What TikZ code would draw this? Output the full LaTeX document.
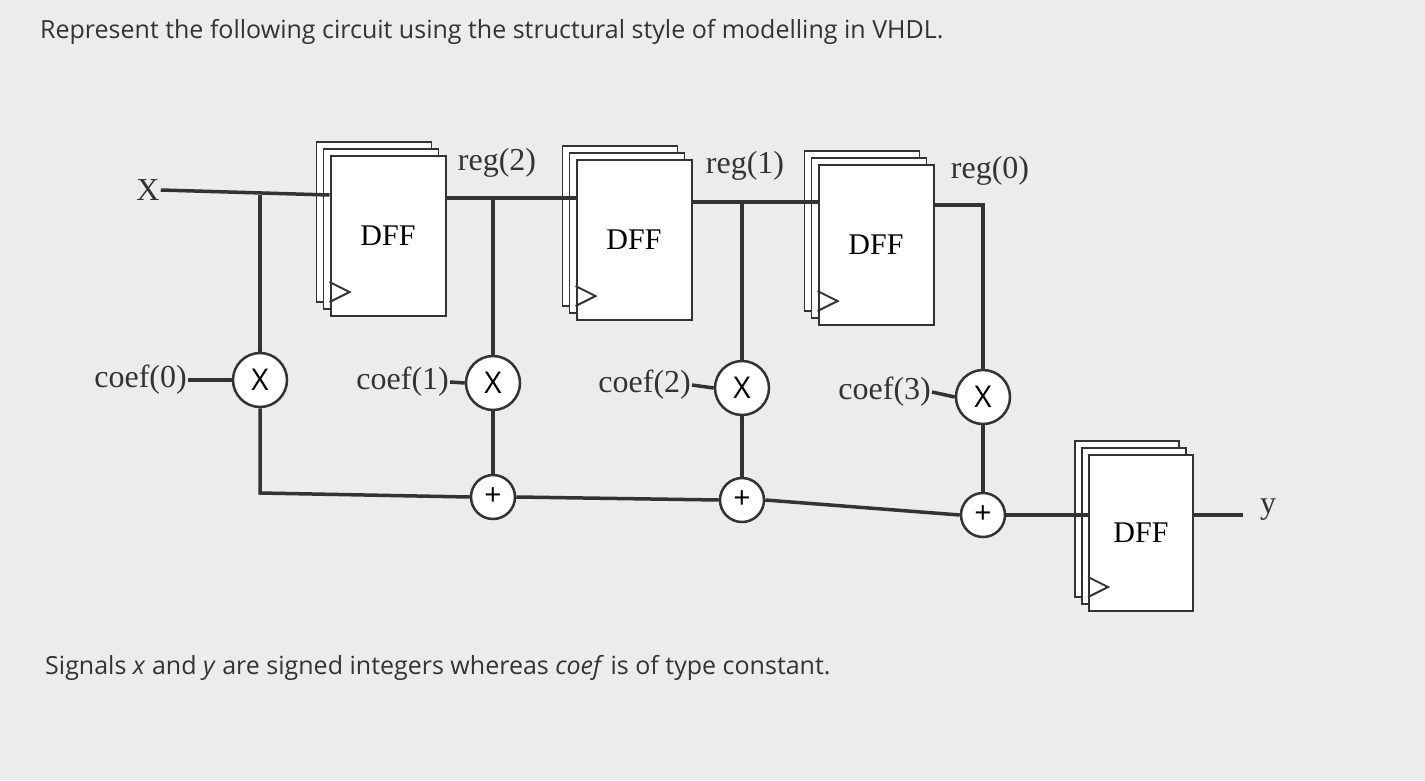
\documentclass[tikz,border=0pt]{standalone}
\usepackage{fontspec}
\setmainfont{Liberation Serif}
\newfontfamily\uisans{Open Sans}
\usetikzlibrary{shadows}
\definecolor{bg}{HTML}{ECECEC}
\definecolor{ink}{HTML}{333333}
\begin{document}
\begin{tikzpicture}[x=1pt,y=-1pt,
  wire/.style={draw=ink,line width=3.5pt},
  dff/.style={draw=ink,line width=2pt,fill=white,minimum width=115pt,minimum height=160pt,
    font=\fontsize{30}{34}\selectfont,
    double copy shadow={shadow xshift=-7pt,shadow yshift=7pt,draw=ink,fill=white,line width=1.5pt}},
  mul/.style={circle,draw=ink,line width=2.5pt,fill=white,minimum size=54pt,inner sep=0pt,font=\uisans\fontsize{30}{32}\selectfont},
  add/.style={circle,draw=ink,line width=2.5pt,fill=white,minimum size=44pt,inner sep=0pt,font=\uisans\fontsize{30}{32}\selectfont},
  lab/.style={inner sep=1pt,text=ink,font=\fontsize{32}{36}\selectfont},
  txt/.style={anchor=west,inner sep=0pt,text=ink,font=\uisans\fontsize{25}{28}\selectfont}]
\fill[bg] (0,0) rectangle (1425,780);
\useasboundingbox (0,0) rectangle (1425,780);
\node[txt] (title) at (40,32) {Represent the following circuit using the structural style of modelling in VHDL.};
\node[txt] (note) at (45,668) {Signals \textit{x} and \textit{y} are signed integers whereas \textit{coef} is of type constant.};
% flip-flops
\node[dff] (d1) at (388,236) {DFF};
\node[dff] (d2) at (634,240) {DFF};
\node[dff] (d3) at (876,245) {DFF};
\node[dff,minimum width=104pt,minimum height=156pt] (d4) at (1141,533) {DFF};
\foreach \d in {d1,d2,d3,d4}
  \draw[ink,line width=2pt] (\d.south west) ++(0,-35) -- ++(20,10) -- ++(-20,10);
% multipliers and adders
\node[mul] (m0) at (260,380) {X};
\node[mul] (m1) at (493,383) {X};
\node[mul] (m2) at (742,388) {X};
\node[mul] (m3) at (983,397) {X};
\node[add] (a1) at (493,497) {+};
\node[add] (a2) at (742,500) {+};
\node[add] (a3) at (983,515) {+};
% labels
\node[lab] (x) at (148,190) {X};
\node[lab] (lr2) at (497,163) {reg(2)};
\node[lab] (lr1) at (745,166) {reg(1)};
\node[lab] (lr0) at (990,171) {reg(0)};
\node[lab,anchor=east] (c0) at (188,380) {coef(0)};
\node[lab,anchor=east] (c1) at (450,382) {coef(1)};
\node[lab,anchor=east] (c2) at (692,385) {coef(2)};
\node[lab,anchor=east] (c3) at (932,392) {coef(3)};
\node[lab] (y) at (1268,510) {y};
% wires
\coordinate (j0) at (260,195);
\coordinate (r2) at (493,198);
\coordinate (r1) at (742,202);
\coordinate (r0) at (983,205);
\coordinate (b0) at (260,493);
\coordinate (yo) at (1243,515);
\draw[wire] (x.east) -- (d1.west |- j0);
\draw[wire] (j0) -- (m0.north);
\draw[wire] (d1.east |- r2) -- (d2.west |- r2);
\draw[wire] (r2) -- (m1.north);
\draw[wire] (d2.east |- r1) -- (d3.west |- r1);
\draw[wire] (r1) -- (m2.north);
\draw[wire] (d3.east |- r0) -- (r0) -- (m3.north);
\draw[wire] (c0.east) -- (m0.west);
\draw[wire] (c1.east) -- (m1.west);
\draw[wire] (c2.east) -- (m2.west);
\draw[wire] (c3.east) -- (m3.west);
\draw[wire] (m0.south) -- (b0) -- (a1.west);
\draw[wire] (m1.south) -- (a1.north);
\draw[wire] (m2.south) -- (a2.north);
\draw[wire] (m3.south) -- (a3.north);
\draw[wire] (a1.east) -- (a2.west);
\draw[wire] (a2.east) -- (a3.west);
\draw[wire] (a3.east) -- (d4.west |- a3);
\draw[wire] (d4.east |- yo) -- (yo);
\end{tikzpicture}
\end{document}
